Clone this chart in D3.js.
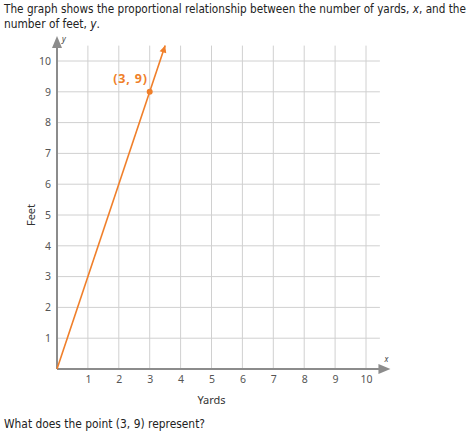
<!DOCTYPE html>
<html>
<head>
<meta charset="utf-8">
<style>
  body { margin: 0; background: #fff; }
  .prompt { font-family: Verdana, "DejaVu Sans", sans-serif; font-size: 11.5px; fill: #222; }
  .tick text { font-family: "Noto Sans", sans-serif; font-size: 10.5px; fill: #555; }
  .grid line { stroke: #d0d0d0; stroke-width: 1px; }
  .axis-title { font-family: "Noto Sans", sans-serif; font-size: 11px; fill: #333; }
</style>
</head>
<body>
<svg width="474" height="437"></svg>
<script src="https://d3js.org/d3.v7.min.js"></script>
<script>
var xTicks = [1, 2, 3, 4, 5, 6, 7, 8, 9, 10];
var yTicks = [1, 2, 3, 4, 5, 6, 7, 8, 9, 10];
var gridX = [1, 2, 3, 4, 5, 6, 7, 8, 9, 10];
var gridY = [1, 2, 3, 4, 5, 6, 7, 8, 9, 10];
var lineX = [0, 3.5];
var lineY = [0, 10.5];
var point = {x: 3, y: 9, label: "(3, 9)"};

var svg = d3.select("svg");
var orange = "#f07f2a";
var axisColor = "#8c8c8c";

var x = d3.scaleLinear().domain([0, 10]).range([57, 366]);
var y = d3.scaleLinear().domain([0, 10]).range([369, 61]);

// prompt text
svg.append("text").attr("class", "prompt").attr("x", 4).attr("y", 13)
  .attr("textLength", 462).attr("lengthAdjust", "spacingAndGlyphs")
  .html('The graph shows the proportional relationship between the number of yards, <tspan font-style="italic">x</tspan>, and the');
svg.append("text").attr("class", "prompt").attr("x", 4).attr("y", 28)
  .attr("textLength", 96).attr("lengthAdjust", "spacingAndGlyphs")
  .html('number of feet, <tspan font-style="italic">y</tspan>.');
svg.append("text").attr("class", "prompt").attr("x", 4).attr("y", 428)
  .attr("textLength", 201).attr("lengthAdjust", "spacingAndGlyphs")
  .text("What does the point (3, 9) represent?");

// grid
var grid = svg.append("g").attr("class", "grid");
grid.selectAll(".gv").data(gridX).enter().append("line")
  .attr("x1", function(d) { return x(d); }).attr("x2", function(d) { return x(d); })
  .attr("y1", y(0)).attr("y2", y(10.5));
grid.selectAll(".gh").data(gridY).enter().append("line")
  .attr("y1", function(d) { return y(d); }).attr("y2", function(d) { return y(d); })
  .attr("x1", x(0)).attr("x2", x(10.45));

// axes
svg.append("line").attr("x1", x(0)).attr("x2", x(10.5)).attr("y1", y(0)).attr("y2", y(0))
  .attr("stroke", axisColor).attr("stroke-width", 2);
svg.append("line").attr("x1", x(0)).attr("x2", x(0)).attr("y1", y(0)).attr("y2", y(10.55))
  .attr("stroke", axisColor).attr("stroke-width", 2);
svg.append("path")
  .attr("d", "M" + (x(10.5) + 9) + "," + y(0) + "l-12,-5l0,10z").attr("fill", axisColor);
svg.append("path")
  .attr("d", "M" + x(0) + "," + (y(10.55) - 8) + "l-5,12l10,0z").attr("fill", axisColor);
svg.append("text").attr("x", x(10.5) + 3).attr("y", y(0) - 7)
  .attr("font-family", "Noto Sans, sans-serif").attr("font-size", 8).attr("font-style", "italic")
  .attr("fill", "#444").text("x");
svg.append("text").attr("x", x(0) + 5).attr("y", y(10.55) - 2)
  .attr("font-family", "Noto Sans, sans-serif").attr("font-size", 8).attr("font-style", "italic")
  .attr("fill", "#444").text("y");

// tick labels
var xAxis = d3.axisBottom(x).tickValues(xTicks).tickSize(0).tickPadding(7);
svg.append("g").attr("transform", "translate(0," + y(0) + ")").call(xAxis)
  .call(function(g) { g.select(".domain").remove(); });
var yAxis = d3.axisLeft(y).tickValues(yTicks).tickSize(0).tickPadding(6);
svg.append("g").attr("transform", "translate(" + x(0) + ",0)").call(yAxis)
  .call(function(g) { g.select(".domain").remove(); });

// axis titles
svg.append("text").attr("class", "axis-title").attr("x", x(5)).attr("y", 404)
  .attr("text-anchor", "middle").text("Yards");
svg.append("text").attr("class", "axis-title")
  .attr("transform", "translate(35," + y(5) + ") rotate(-90)")
  .attr("text-anchor", "middle").text("Feet");

// proportional line
var line = d3.line().x(function(d) { return x(d[0]); }).y(function(d) { return y(d[1]); });
var pts = lineX.map(function(v, i) { return [v, lineY[i]]; });
svg.append("path").datum(pts).attr("d", line)
  .attr("fill", "none").attr("stroke", orange).attr("stroke-width", 1.6);
var x1 = x(lineX[1]), y1 = y(lineY[1]);
var ang = Math.atan2(y1 - y(0), x1 - x(0)) * 180 / Math.PI;
svg.append("path").attr("d", "M0,0L-7,-3.5L-7,3.5Z").attr("fill", orange)
  .attr("transform", "translate(" + x1 + "," + y1 + ") rotate(" + ang + ")");

svg.append("circle").attr("cx", x(point.x)).attr("cy", y(point.y)).attr("r", 3).attr("fill", orange);
svg.append("text").attr("x", x(point.x) - 2).attr("y", y(point.y) - 9)
  .attr("text-anchor", "end").attr("font-family", "Noto Sans, sans-serif")
  .attr("font-size", 12.5).attr("font-weight", "bold").attr("letter-spacing", 0.8)
  .attr("fill", orange).text(point.label);
</script>
</body>
</html>
